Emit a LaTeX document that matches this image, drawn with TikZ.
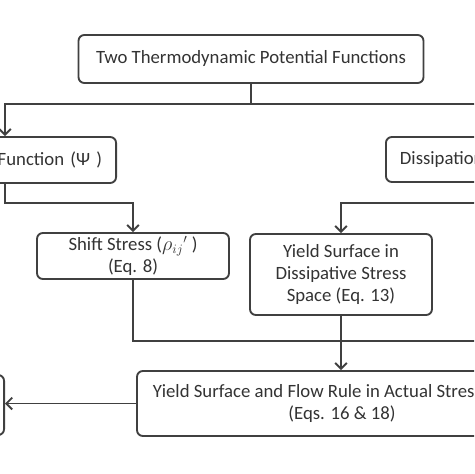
\documentclass[tikz,border=0pt]{standalone}
\usepackage{fontspec}
\setmainfont{Carlito}
\usetikzlibrary{arrows.meta, positioning}
\definecolor{linegray}{HTML}{404040}
\definecolor{textgray}{HTML}{333333}

\begin{document}
\begin{tikzpicture}[
    x=0.03cm, y=-0.03cm,
    box/.style={rectangle, draw=linegray, line width=1.6pt, rounded corners=5pt,
                fill=white, text=textgray, font=\fontsize{16}{19}\selectfont,
                align=center, inner sep=0pt},
    line/.style={draw=linegray, line width=1.6pt},
    arrow/.style={line, -{Straight Barb[length=5pt, width=10pt]}}
]
\useasboundingbox (0,0) rectangle (474,474);
\clip (0,0) rectangle (474,474);

% Boxes
\node[box, minimum width=10.35cm, minimum height=1.44cm] at (251,59) (top)
    {Two Thermodynamic Potential Functions};
\node[box, anchor=east, minimum height=1.38cm, text width=7.2cm, align=right,
      inner xsep=0.42cm] at (117,160) (psi) {Function (Ψ )};
\node[box, anchor=west, minimum height=1.35cm, text width=7.16cm, align=left,
      inner xsep=0.42cm] at (385,159.5) (dis) {Dissipation};
\node[box, minimum width=5.76cm, minimum height=1.38cm] at (133,256) (shift)
    {Shift Stress ($\rho_{ij}{}'$ )\\(Eq. 8)};
\node[box, minimum width=5.46cm, minimum height=2.43cm] at (341,274.5) (yield)
    {Yield Surface in\\Dissipative Stress\\Space (Eq. 13)};
\node[box, minimum width=12.3cm, minimum height=1.95cm] at (342,403.5) (actual)
    {\makebox[11.34cm][l]{Yield Surface and Flow Rule in Actual Stress}\\(Eqs. 16 \& 18)};
\node[box, anchor=east, minimum width=3cm, minimum height=1.8cm] at (5,405) (out) {};

% Bends
\coordinate (j1) at (251,104);
\coordinate (j2) at (5,203);
\coordinate (j3) at (500,203);
\coordinate (j4) at (500,341);
\coordinate (jr) at (500,104);

% Connectors
\draw[line] (top.south) -- (j1) -- (jr);
\draw[arrow] (j1) -| (psi.north -| j2);
\draw[arrow] (psi.south -| j2) -- (j2) -| (shift.north);
\draw[arrow] (dis.south -| j3) -- (j3) -| (yield.north);
\draw[line] (shift.south) |- (j4);
\draw[arrow] (yield.south) -- (yield.south |- actual.north);
\draw[arrow] (actual.west) -- (actual.west -| out.east);

\end{tikzpicture}
\end{document}
